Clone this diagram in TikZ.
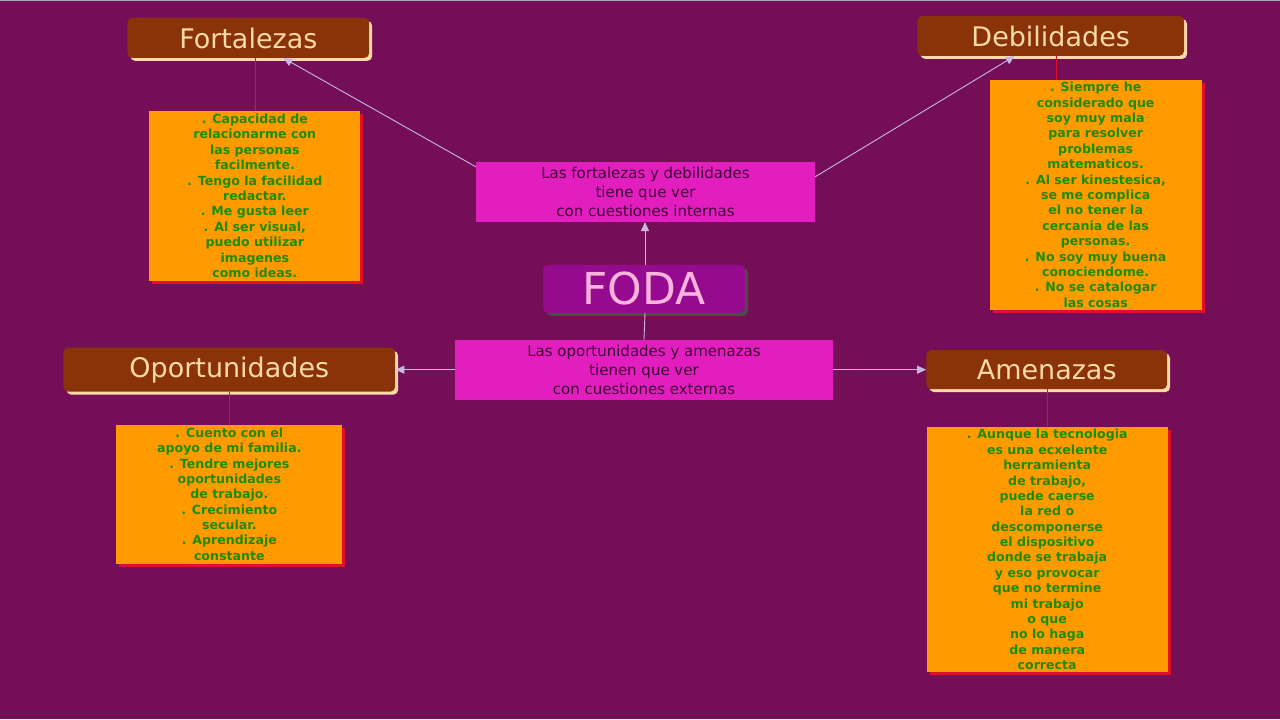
\documentclass[tikz,border=0pt]{standalone}
\usepackage{fontspec}
\setmainfont{DejaVu Sans}
\usetikzlibrary{arrows.meta,shadows}
\definecolor{bg}{HTML}{740F57}
\definecolor{hdr}{HTML}{8A3208}
\definecolor{peach}{HTML}{FFD9A8}
\definecolor{org}{HTML}{FF9A00}
\definecolor{grn}{HTML}{1E8C00}
\definecolor{pnk}{HTML}{E21EBE}
\definecolor{pnktxt}{HTML}{3E0035}
\definecolor{foda}{HTML}{950A8E}
\definecolor{fodatxt}{HTML}{FFB4DC}
\definecolor{lnk}{HTML}{C8B8E0}
\definecolor{rline}{HTML}{E0102A}
\tikzset{
 x=1pt,y=-1pt,
 hdrbox/.style={fill=hdr,rounded corners=5pt,text=peach,font=\fontsize{27}{30}\selectfont,inner sep=0pt,
   drop shadow={shadow xshift=3pt,shadow yshift=-3pt,fill=peach,opacity=1}},
 orgbox/.style={fill=org,text=grn,font=\bfseries\fontsize{12.6}{15.4}\selectfont,align=center,inner sep=0pt,
   drop shadow={shadow xshift=3pt,shadow yshift=-3pt,fill=rline,opacity=1}},
 pnkbox/.style={fill=pnk,text=pnktxt,font=\fontsize{15}{19}\selectfont,align=center,inner sep=0pt},
 lk/.style={draw=lnk,line width=0.9pt},
 lka/.style={lk,-{Triangle[length=9pt,width=8pt,fill=lnk]}},
 rl/.style={draw=rline,line width=1.2pt}
}
\begin{document}
\begin{tikzpicture}
\fill[bg] (0,0) rectangle (1280,720);
\draw[lnk!60!gray,line width=1pt] (0,0.5) -- (1280,0.5);
\useasboundingbox (0,0) rectangle (1280,720);

\node[hdrbox,minimum width=242pt,minimum height=40pt] (fh) at (248,38) {Fortalezas};
\node[hdrbox,minimum width=267pt,minimum height=40pt] (dh) at (1051,36) {Debilidades};
\node[hdrbox,minimum width=332pt,minimum height=44pt] (oh) at (229,370) {Oportunidades};
\node[hdrbox,minimum width=241pt,minimum height=39pt] (ah) at (1047,370) {Amenazas};

\node[orgbox,minimum width=211pt,minimum height=170pt] (fb) at (254.5,196) {. Capacidad de\\relacionarme con\\las personas\\facilmente.\\. Tengo la facilidad\\redactar.\\. Me gusta leer\\. Al ser visual,\\puedo utilizar\\imagenes\\como ideas.};
\node[orgbox,minimum width=212pt,minimum height=230pt] (db) at (1096,195) {. Siempre he\\considerado que\\soy muy mala\\para resolver\\problemas\\matematicos.\\. Al ser kinestesica,\\se me complica\\el no tener la\\cercania de las\\personas.\\. No soy muy buena\\conociendome.\\. No se catalogar\\las cosas};
\node[orgbox,minimum width=226pt,minimum height=139pt] (ob) at (229,494.5) {. Cuento con el\\apoyo de mi familia.\\. Tendre mejores\\oportunidades\\de trabajo.\\. Crecimiento\\secular.\\. Aprendizaje\\constante};
\node[orgbox,minimum width=241pt,minimum height=246pt] (ab) at (1047.5,550) {. Aunque la tecnologia\\es una ecxelente\\herramienta\\de trabajo,\\puede caerse\\la red o\\descomponerse\\el dispositivo\\donde se trabaja\\y eso provocar\\que no termine\\mi trabajo\\o que\\no lo haga\\de manera\\correcta};

\node[pnkbox,minimum width=339pt,minimum height=60pt] (pt) at (645.5,192) {Las fortalezas y debilidades\\tiene que ver\\con cuestiones internas};
\node[pnkbox,minimum width=378pt,minimum height=60pt] (pb) at (644,370) {Las oportunidades y amenazas\\tienen que ver\\con cuestiones externas};
\node[fill=foda,text=fodatxt,rounded corners=5pt,minimum width=202pt,minimum height=48pt,inner sep=0pt,
  font=\fontsize{44}{48}\selectfont,drop shadow={shadow xshift=3pt,shadow yshift=-3pt,fill=black!70,opacity=1}] (fd) at (644,289) {FODA};

\draw[rl] (fh.south -| 255,0) -- (fb.north -| 255,0);
\draw[rl] (dh.south -| 1057,0) -- (db.north -| 1057,0);
\draw[rl] (oh.south -| 229,0) -- (ob.north -| 229,0);
\draw[rl] (ah.south -| 1048,0) -- (ab.north -| 1048,0);

\draw[lka] (pt.west |- 0,167) -- (283,58);
\draw[lka] (pt.east |- 0,177) -- (1015,56);
\draw[lka] (fd.north -| 645,0) -- (pt.south -| 645,0);
\draw[lk] (fd.south -| 645,0) -- (pb.north -| 644,0);
\draw[lka] (pb.west) -- (oh.east);
\draw[lka] (pb.east) -- (ah.west);
\end{tikzpicture}
\end{document}
